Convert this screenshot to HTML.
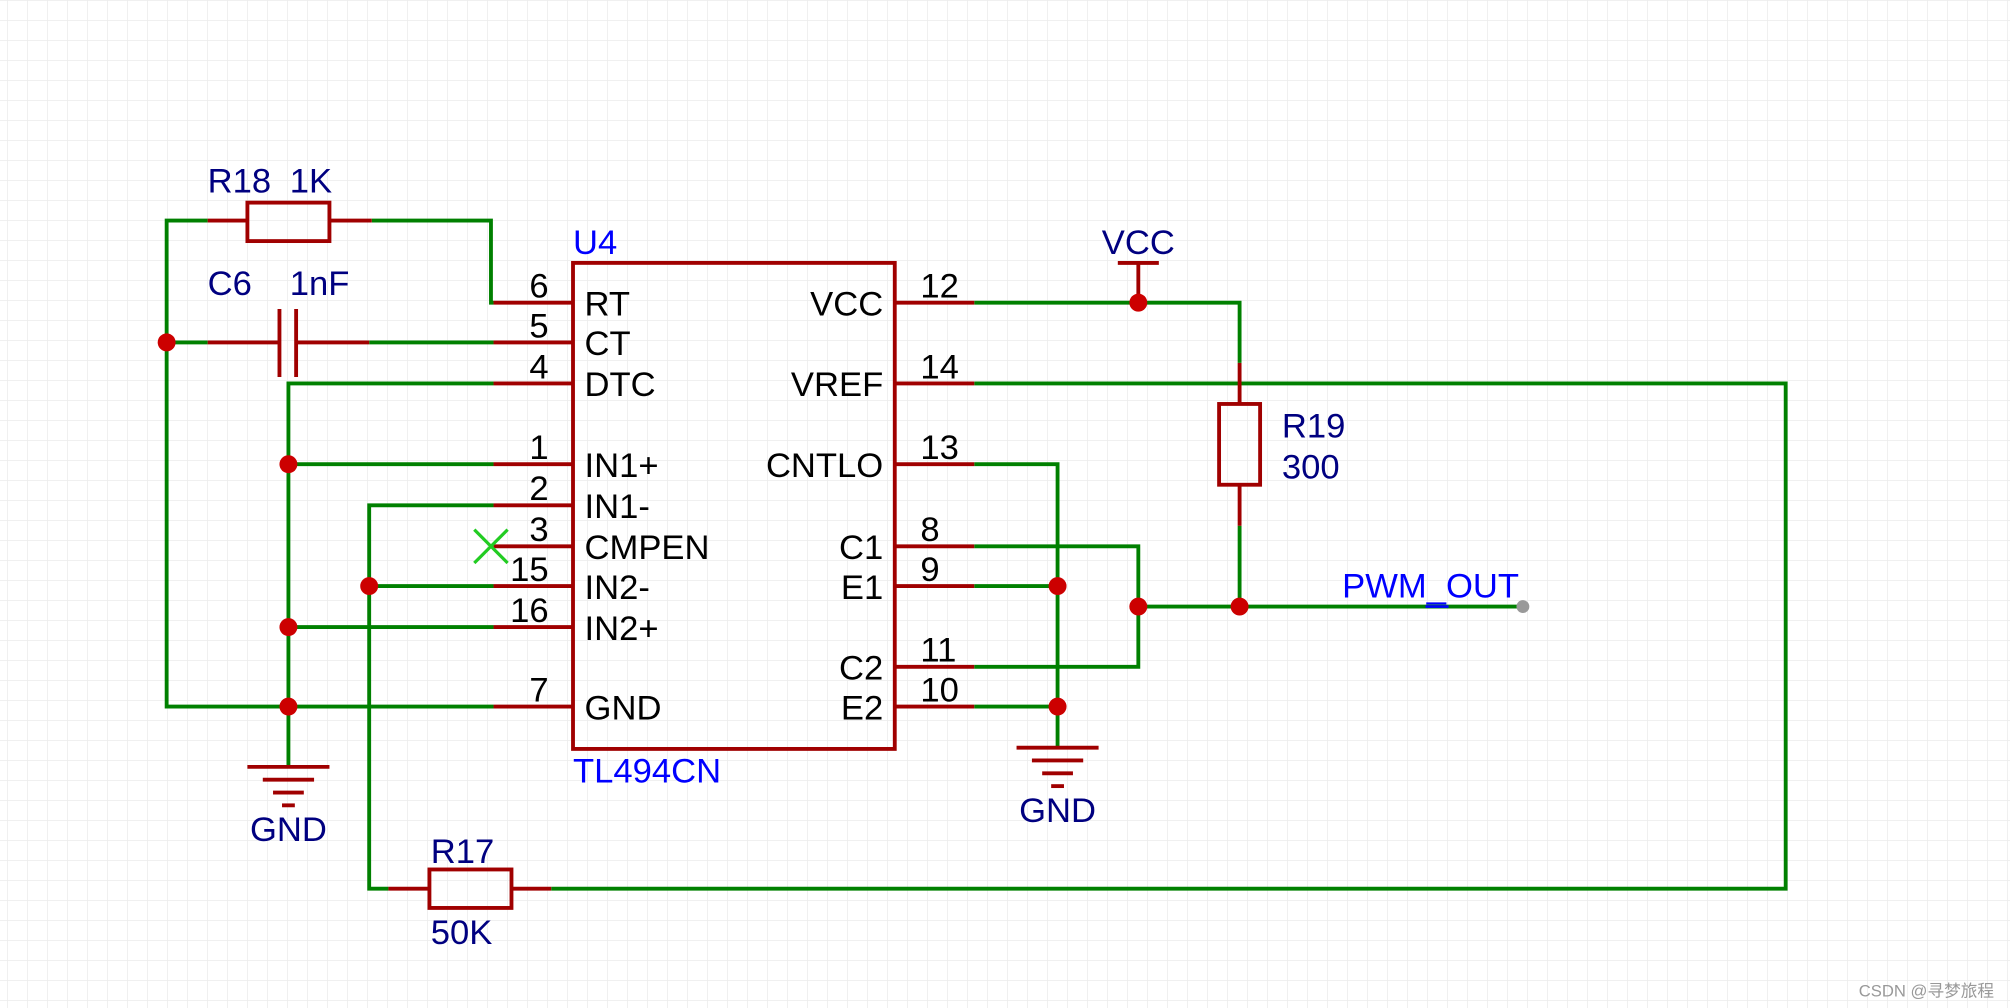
<!DOCTYPE html>
<html><head><meta charset="utf-8"><style>
html,body{margin:0;padding:0;background:#fff;}
svg{display:block;}
</style></head><body>
<svg width="2010" height="1008" viewBox="0 0 2010 1008" xmlns="http://www.w3.org/2000/svg">
<defs>
<pattern id="g" x="7" y="0" width="20" height="20" patternUnits="userSpaceOnUse">
<path d="M0 0H20M0 0V20" stroke="#ececec" stroke-width="1.5" fill="none"/>
</pattern>
</defs>
<rect width="2010" height="1008" fill="url(#g)"/>
<g transform="scale(1.2819,1.2824)" font-family="Liberation Sans, sans-serif">
<g stroke="#008000" stroke-width="3" fill="none">
<polyline points="162,172 130,172 130,551 385,551"/>
<polyline points="290,172 383,172 383,236 385,236"/>
<line x1="130" y1="267" x2="162" y2="267"/>
<line x1="288" y1="267" x2="385" y2="267"/>
<polyline points="385,299 225,299 225,598"/>
<line x1="225" y1="362" x2="385" y2="362"/>
<line x1="225" y1="489" x2="385" y2="489"/>
<polyline points="385,394 288,394 288,693 303,693"/>
<line x1="288" y1="457" x2="385" y2="457"/>
<polyline points="430,693 1393,693 1393,299 760,299"/>
<polyline points="760,236 967,236 967,283"/>
<polyline points="967,410 967,473"/>
<polyline points="760,362 825,362 825,583"/>
<line x1="760" y1="457" x2="825" y2="457"/>
<line x1="760" y1="551" x2="825" y2="551"/>
<polyline points="760,426 888,426 888,520 760,520"/>
<line x1="888" y1="473" x2="1188" y2="473"/>
</g>
<g stroke="#a00000" stroke-width="3" fill="none">
<rect x="447" y="205" width="251" height="379"/>
<line x1="162" y1="172" x2="193" y2="172"/>
<rect x="193" y="158" width="64" height="30"/>
<line x1="257" y1="172" x2="290" y2="172"/>
<line x1="162" y1="267" x2="218" y2="267"/>
<line x1="218" y1="241" x2="218" y2="294"/>
<line x1="231" y1="241" x2="231" y2="294"/>
<line x1="231" y1="267" x2="288" y2="267"/>
<line x1="303" y1="693" x2="335" y2="693"/>
<rect x="335" y="678" width="64" height="30"/>
<line x1="399" y1="693" x2="430" y2="693"/>
<line x1="967" y1="283" x2="967" y2="315"/>
<rect x="951" y="315" width="32" height="63"/>
<line x1="967" y1="378" x2="967" y2="410"/>
<line x1="888" y1="205" x2="888" y2="236"/>
<line x1="872" y1="205" x2="904" y2="205"/>
<line x1="193" y1="598" x2="257" y2="598"/>
<line x1="205" y1="608" x2="245" y2="608"/>
<line x1="213" y1="618" x2="237" y2="618"/>
<line x1="220" y1="628" x2="230" y2="628"/>
<line x1="793" y1="583" x2="857" y2="583"/>
<line x1="805" y1="593" x2="845" y2="593"/>
<line x1="813" y1="603" x2="837" y2="603"/>
<line x1="820" y1="613" x2="830" y2="613"/>
<path d="M385 236H447M385 267H447M385 299H447M385 362H447M385 394H447M385 426H447M385 457H447M385 489H447M385 551H447"/>
<path d="M698 236H760M698 299H760M698 362H760M698 426H760M698 457H760M698 520H760M698 551H760"/>
</g>
<g stroke="#22cc22" stroke-width="2.5"><line x1="370" y1="413" x2="396" y2="439"/><line x1="396" y1="413" x2="370" y2="439"/></g>
<g fill="#cc0000">
<circle cx="130" cy="267" r="7"/><circle cx="225" cy="362" r="7"/><circle cx="225" cy="489" r="7"/><circle cx="225" cy="551" r="7"/>
<circle cx="288" cy="457" r="7"/><circle cx="888" cy="236" r="7"/><circle cx="825" cy="457" r="7"/><circle cx="825" cy="551" r="7"/>
<circle cx="888" cy="473" r="7"/><circle cx="967" cy="473" r="7"/>
</g>
<circle cx="1188" cy="473" r="5" fill="#999"/>
<line x1="1112" y1="473" x2="1130" y2="473" stroke="#0000ff" stroke-width="2"/>
<g fill="#000080" font-size="27">
<text x="162" y="150">R18</text><text x="226" y="150">1K</text>
<text x="162" y="230">C6</text><text x="226" y="230">1nF</text>
<text x="225" y="656" text-anchor="middle">GND</text>
<text x="825" y="641" text-anchor="middle">GND</text>
<text x="888" y="198" text-anchor="middle">VCC</text>
<text x="1000" y="341">R19</text><text x="1000" y="373">300</text>
<text x="336" y="673">R17</text><text x="336" y="736">50K</text>
</g>
<g fill="#0000ff" font-size="27">
<text x="447" y="198">U4</text>
<text x="447" y="610">TL494CN</text>
<text x="1047" y="466">PWM_OUT</text>
</g>
<g fill="#000" font-size="27">
<g text-anchor="end">
<text x="428" y="232">6</text><text x="428" y="263">5</text><text x="428" y="295">4</text><text x="428" y="358">1</text><text x="428" y="390">2</text><text x="428" y="422">3</text><text x="428" y="453">15</text><text x="428" y="485">16</text><text x="428" y="547">7</text>
</g>
<text x="456" y="246">RT</text><text x="456" y="277">CT</text><text x="456" y="309">DTC</text><text x="456" y="372">IN1+</text><text x="456" y="404">IN1-</text><text x="456" y="436">CMPEN</text><text x="456" y="467">IN2-</text><text x="456" y="499">IN2+</text><text x="456" y="561">GND</text>
<text x="718" y="232">12</text><text x="718" y="295">14</text><text x="718" y="358">13</text><text x="718" y="422">8</text><text x="718" y="453">9</text><text x="718" y="516">11</text><text x="718" y="547">10</text>
<g text-anchor="end">
<text x="689" y="246">VCC</text><text x="689" y="309">VREF</text><text x="689" y="372">CNTLO</text><text x="689" y="436">C1</text><text x="689" y="467">E1</text><text x="689" y="530">C2</text><text x="689" y="561">E2</text>
</g>
</g>
<text x="1450" y="777" fill="#999" font-size="13" font-family="Liberation Sans, Noto Sans CJK SC, sans-serif">CSDN @寻梦旅程</text>
</g>
</svg>
</body></html>
